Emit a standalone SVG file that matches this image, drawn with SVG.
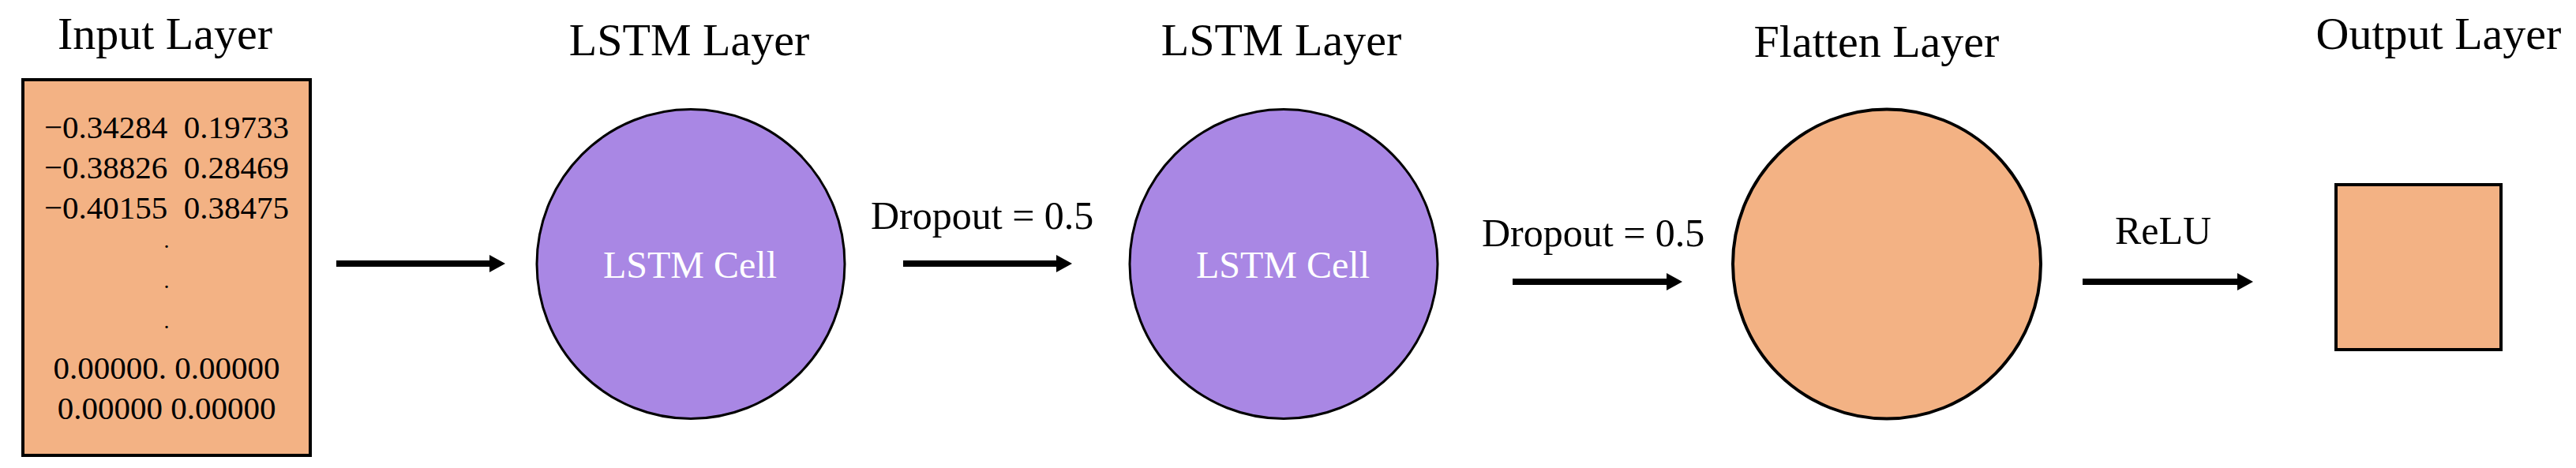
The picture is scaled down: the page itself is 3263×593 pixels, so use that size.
<svg xmlns="http://www.w3.org/2000/svg" width="3263" height="593" viewBox="0 0 3263 593">
<style>
text{font-family:"Liberation Serif","Times New Roman",serif;fill:#000}
.t{font-size:58px;text-anchor:middle}
.m{font-size:41px;text-anchor:middle}
.d{font-size:28px;text-anchor:middle}
.l{font-size:50px}
.c{font-size:48px;fill:#fff;text-anchor:middle}
.o{fill:#f3b284;stroke:#000;stroke-width:4}
.p{fill:#a987e4;stroke:#000;stroke-width:3}
.a{stroke:#000;stroke-width:8;fill:none}
</style>
<defs><marker id="ah" markerUnits="userSpaceOnUse" markerWidth="20" markerHeight="22" refX="0" refY="11" orient="auto"><path d="M0,0 L20,11 L0,22 z" fill="#000"/></marker></defs>
<rect width="3263" height="593" fill="#fff"/>
<g id="input">
<text class="t" x="209" y="62">Input Layer</text>
<rect class="o" x="29" y="101" width="364" height="476"/>
<text class="m" x="211" y="175" xml:space="preserve">−0.34284  0.19733</text>
<text class="m" x="211" y="226" xml:space="preserve">−0.38826  0.28469</text>
<text class="m" x="211" y="277" xml:space="preserve">−0.40155  0.38475</text>
<text class="d" x="211" y="314">.</text>
<text class="d" x="211" y="365">.</text>
<text class="d" x="211" y="416">.</text>
<text class="m" x="211" y="480">0.00000. 0.00000</text>
<text class="m" x="211" y="531">0.00000 0.00000</text>
</g>
<g id="lstm1">
<text class="t" x="873" y="70">LSTM Layer</text>
<ellipse class="p" cx="875" cy="334.5" rx="195" ry="196"/>
<text class="c" x="874" y="352">LSTM Cell</text>
</g>
<g id="lstm2">
<text class="t" x="1623" y="70">LSTM Layer</text>
<ellipse class="p" cx="1626" cy="334.5" rx="195" ry="196"/>
<text class="c" x="1625" y="352">LSTM Cell</text>
</g>
<g id="flatten">
<text class="t" x="2377" y="72">Flatten Layer</text>
<ellipse class="o" cx="2390" cy="334.5" rx="195" ry="196" stroke-width="3"/>
</g>
<g id="output">
<text class="t" x="3089" y="62">Output Layer</text>
<rect class="o" x="2959" y="234" width="209" height="209"/>
</g>
<g id="connectors">
<line class="a" x1="426" y1="334" x2="620" y2="334" marker-end="url(#ah)"/>
<line class="a" x1="1144" y1="334" x2="1338" y2="334" marker-end="url(#ah)"/>
<line class="a" x1="1916" y1="357" x2="2111" y2="357" marker-end="url(#ah)"/>
<line class="a" x1="2638" y1="357" x2="2834" y2="357" marker-end="url(#ah)"/>
<text class="l" x="1103" y="290">Dropout = 0.5</text>
<text class="l" x="1877" y="312">Dropout = 0.5</text>
<text class="l" x="2679" y="309">ReLU</text>
</g>
</svg>
